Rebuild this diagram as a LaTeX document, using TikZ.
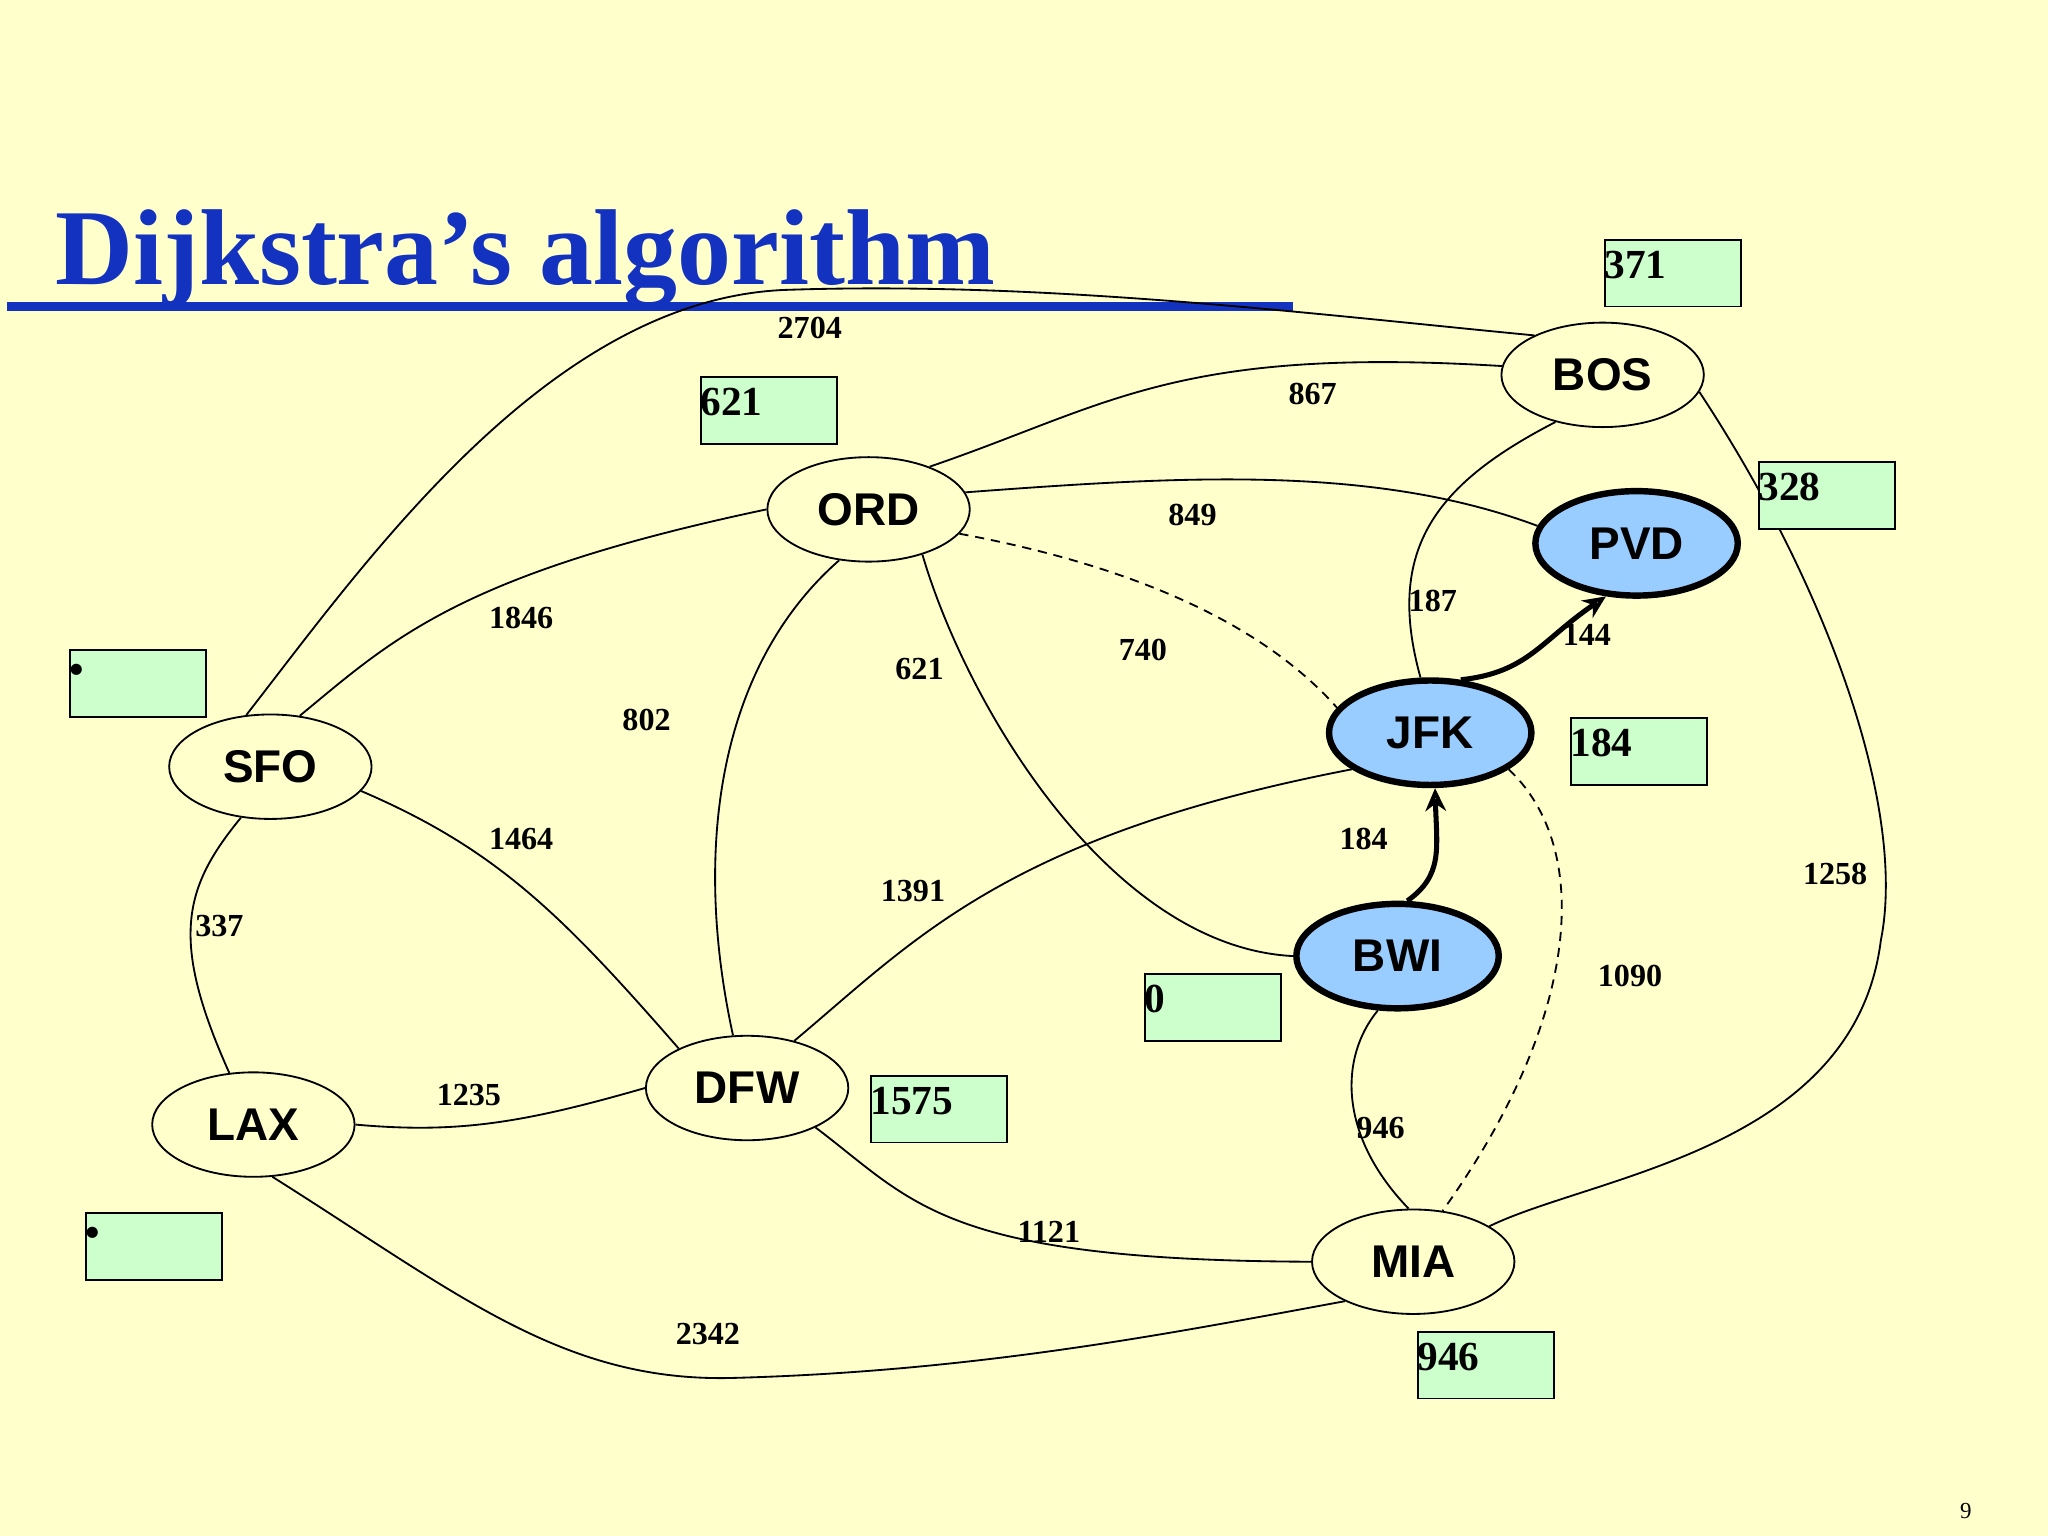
\documentclass[tikz,border=0pt]{standalone}
\usepackage{fontspec}
\setmainfont{Liberation Serif}
\newfontfamily\sans{Liberation Sans}
\usetikzlibrary{shapes.geometric,arrows.meta}
\definecolor{bg}{HTML}{FFFFCC}
\definecolor{boxg}{HTML}{CCFFCC}
\definecolor{nodeb}{HTML}{99CCFF}
\definecolor{titleb}{HTML}{1432C0}
\begin{document}
\begin{tikzpicture}[x=0.02cm,y=-0.02cm,
  city/.style={ellipse,draw,line width=0.8pt,fill=bg,minimum width=3.1cm,minimum height=1.6cm,inner sep=0pt,font=\sans\fontsize{20}{20}\selectfont\bfseries},
  vis/.style={city,fill=nodeb,line width=2.8pt},
  dbox/.style={draw,line width=0.8pt,fill=boxg,minimum width=2.08cm,minimum height=1.02cm,anchor=north west,inner sep=0pt},
  dtxt/.style={anchor=north west,inner sep=0pt,font=\fontsize{18}{18}\selectfont\bfseries},
  w/.style={font=\fontsize{14}{14}\selectfont\bfseries,inner sep=0pt},
  e/.style={line width=0.8pt},
  dsh/.style={e,dash pattern=on 4pt off 3pt},
  sp/.style={line width=2.2pt,-{Stealth[length=10pt,width=9pt,open]}}]
\useasboundingbox (0,0) rectangle (1568,1176);
\fill[bg] (0,0) rectangle (1568,1176);
% title
\node[anchor=base west,inner sep=0pt,text=titleb,font=\fontsize{47}{47}\selectfont\bfseries] (title) at (42,218) {Dijkstra’s algorithm};
\fill[titleb] (5,231) rectangle (990,238);
\node[font=\fontsize{10}{10}\selectfont] (pg) at (1505,1157) {9};
% edges drawn first
\coordinate (c1) at (600,222);
\coordinate (c2) at (560,1055);
\coordinate (c3) at (1440,720);
% nodes
\node[city] (SFO) at (207,587) {SFO};
\node[city] (LAX) at (194,861) {LAX};
\node[city] (ORD) at (665,390) {ORD};
\node[city] (DFW) at (572,833) {DFW};
\node[city] (BOS) at (1227,287) {BOS};
\node[vis] (PVD) at (1253,416) {PVD};
\node[vis] (JFK) at (1095,561) {JFK};
\node[vis] (BWI) at (1070,732) {BWI};
\node[city] (MIA) at (1082,966) {MIA};
\begin{scope}[on background layer/.style={}]
\draw[e] (SFO.115) .. controls (280,430) and (420,230) .. (c1) .. controls (800,215) and (1000,240) .. (BOS.150);
\draw[e] (SFO.60) .. controls (300,490) and (350,440) .. (ORD.180);
\draw[e] (SFO.345) .. controls (380,650) and (430,700) .. (DFW.150);
\draw[e] (SFO.240) .. controls (140,680) and (130,720) .. (LAX.115);
\draw[e] (LAX.0) .. controls (350,868) and (400,860) .. (DFW.180);
\draw[e] (LAX.290) .. controls (350,990) and (430,1058) .. (c2) .. controls (750,1050) and (900,1020) .. (MIA.210);
\draw[e] (ORD.240) .. controls (550,510) and (530,650) .. (DFW.105);
\draw[e] (ORD.35) .. controls (850,310) and (900,265) .. (BOS.175);
\draw[e] (ORD.10) .. controls (900,365) and (1050,355) .. (PVD.170);
\draw[dsh] (ORD.345) .. controls (850,430) and (960,470) .. (JFK.165);
\draw[e] (ORD.320) .. controls (740,540) and (850,725) .. (BWI.180);
\draw[e] (DFW.45) .. controls (700,720) and (770,640) .. (JFK.205);
\draw[e] (DFW.330) .. controls (700,920) and (720,965) .. (MIA.180);
\draw[e] (BOS.225) .. controls (1100,370) and (1060,420) .. (JFK.100);
\draw[e] (BOS.350) .. controls (1400,450) and (1460,620) .. (c3) .. controls (1420,880) and (1220,900) .. (MIA.25);
\draw[sp] (JFK.60) .. controls (1170,515) and (1180,490) .. (PVD.240);
\draw[sp] (BWI.80) .. controls (1105,670) and (1100,650) .. (JFK.275);
\draw[e] (BWI.250) .. controls (1025,810) and (1025,870) .. (MIA.95);
\draw[dsh] (JFK.335) .. controls (1220,650) and (1210,780) .. (MIA.60);
\end{scope}
% weights
\node[w] (w1) at (620,251) {2704};
\node[w] (w2) at (399,473) {1846};
\node[w] (w3) at (399,642) {1464};
\node[w] (w4) at (168,709) {337};
\node[w] (w5) at (359,838) {1235};
\node[w] (w6) at (542,1021) {2342};
\node[w] (w7) at (495,551) {802};
\node[w] (w8) at (1005,302) {867};
\node[w] (w9) at (913,394) {849};
\node[w] (w10) at (875,498) {740};
\node[w] (w11) at (704,512) {621};
\node[w] (w12) at (699,682) {1391};
\node[w] (w13) at (803,943) {1121};
\node[w] (w14) at (1097,460) {187};
\node[w] (w15) at (1405,669) {1258};
\node[w] (w16) at (1215,486) {144};
\node[w] (w17) at (1044,642) {184};
\node[w] (w18) at (1057,864) {946};
\node[w] (w19) at (1248,747) {1090};
% distance boxes
\node[dbox] (b1) at (53,497) {}; \node[dtxt] (t1) at (53,508) {•};
\node[dbox] (b2) at (65,928) {}; \node[dtxt] (t2) at (65,939) {•};
\node[dbox] (b3) at (536,288) {}; \node[dtxt] (t3) at (536,297) {621};
\node[dbox] (b4) at (1228,183) {}; \node[dtxt] (t4) at (1228,192) {371};
\node[dbox] (b5) at (1346,353) {}; \node[dtxt] (t5) at (1346,362) {328};
\node[dbox] (b6) at (1202,549) {}; \node[dtxt] (t6) at (1202,558) {184};
\node[dbox] (b7) at (876,745) {}; \node[dtxt] (t7) at (876,754) {0};
\node[dbox] (b8) at (666,823) {}; \node[dtxt] (t8) at (666,832) {1575};
\node[dbox] (b9) at (1085,1019) {}; \node[dtxt] (t9) at (1085,1028) {946};
\end{tikzpicture}
\end{document}
